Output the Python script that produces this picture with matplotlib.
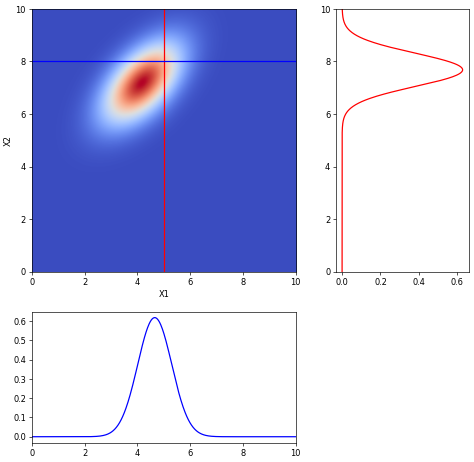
import matplotlib
matplotlib.use("Agg")
import matplotlib.pyplot as plt
import numpy as np

# joint gaussian shown in the heatmap
mean = np.array([4.15, 7.2])
cov = np.array([[0.95, 0.55], [0.55, 1.05]])
x1_cut = 5.0   # red vertical line
x2_cut = 8.0   # blue horizontal line

# slices shown on the side panels: (centre, spread)
right_mu, right_sd = 7.68, 0.635    # p(x2 | x1 = 5)
bottom_mu, bottom_sd = 4.66, 0.645  # p(x1 | x2 = 8)

ticks = [0, 2, 4, 6, 8, 10]
bottom_yticks = [0.0, 0.1, 0.2, 0.3, 0.4, 0.5, 0.6]
right_xticks = [0.0, 0.2, 0.4, 0.6]

grid = np.linspace(0, 10, 500)
X1, X2 = np.meshgrid(grid, grid)
pos = np.dstack([X1, X2]) - mean
inv = np.linalg.inv(cov)
dens = np.exp(-0.5 * np.einsum("...i,ij,...j->...", pos, inv, pos))
dens /= 2 * np.pi * np.sqrt(np.linalg.det(cov))


def normal_pdf(v, mu, sd):
    return np.exp(-0.5 * ((v - mu) / sd) ** 2) / (sd * np.sqrt(2 * np.pi))


fig = plt.figure(figsize=(8, 7.8), dpi=59.25)
ax = fig.add_axes([0.0669, 0.4119, 0.557, 0.5686])
ax_r = fig.add_axes([0.709, 0.4119, 0.2797, 0.5686])
ax_b = fig.add_axes([0.0669, 0.0418, 0.557, 0.2835])

ax.imshow(dens, cmap="coolwarm", origin="lower", extent=[0, 10, 0, 10], aspect="auto")
ax.axvline(x1_cut, color="red")
ax.axhline(x2_cut, color="blue")
ax.set_xlim(0, 10)
ax.set_ylim(0, 10)
ax.set_xticks(ticks)
ax.set_yticks(ticks)
ax.set_xlabel("X1")
ax.set_ylabel("X2")

ax_r.plot(normal_pdf(grid, right_mu, right_sd), grid, color="red")
ax_r.set_ylim(0, 10)
ax_r.set_yticks(ticks)
ax_r.set_xticks(right_xticks)

ax_b.plot(grid, normal_pdf(grid, bottom_mu, bottom_sd), color="blue")
ax_b.set_xlim(0, 10)
ax_b.set_xticks(ticks)
ax_b.set_yticks(bottom_yticks)

fig.savefig("out.png", dpi=59.25)
